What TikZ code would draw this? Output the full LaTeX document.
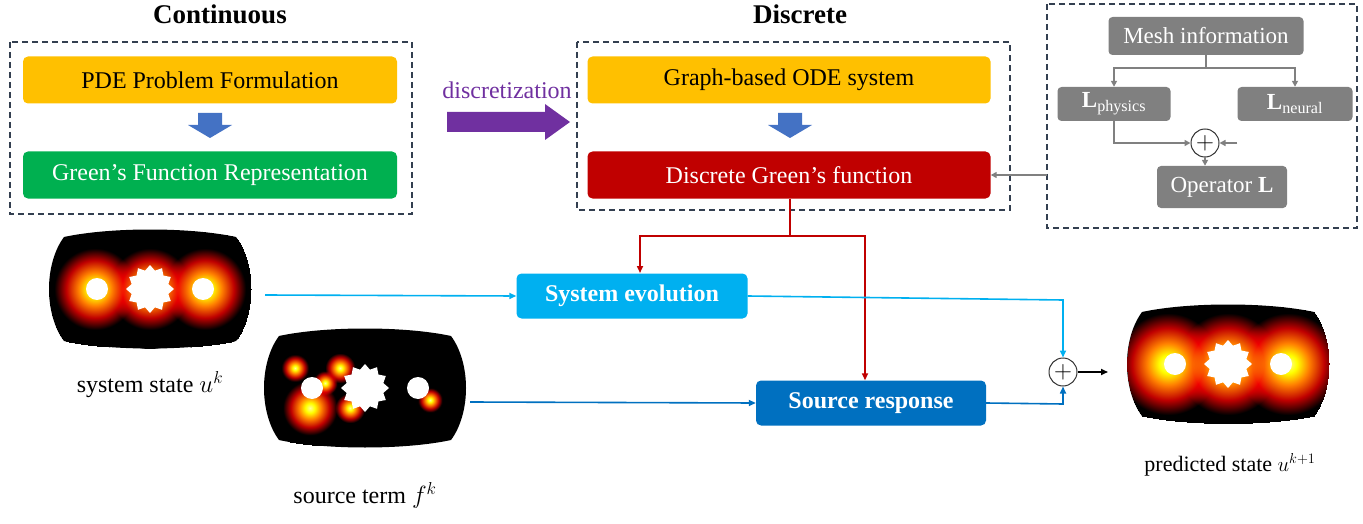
\documentclass[tikz,border=0pt]{standalone}
\usepackage{fontspec}
\setmainfont{Liberation Serif}
\usetikzlibrary{arrows.meta,calc}
\definecolor{yel}{HTML}{FFC000}
\definecolor{grn}{HTML}{00B050}
\definecolor{dred}{HTML}{C00000}
\definecolor{lblue}{HTML}{00B0F0}
\definecolor{mblue}{HTML}{0070C0}
\definecolor{arrb}{HTML}{4472C4}
\definecolor{purp}{HTML}{7030A0}
\definecolor{gbox}{HTML}{808080}
\definecolor{dash}{HTML}{333F50}
\pgfdeclareradialshading{glow}{\pgfpoint{0bp}{0bp}}{color(0bp)=(white!60!yellow); color(3bp)=(yellow); color(7bp)=(orange); color(12bp)=(red!75!black); color(17bp)=(black); color(25bp)=(black)}
\tikzset{
 x=1pt,y=-1pt,
 every node/.style={font=\fontsize{24}{28}\selectfont},
 box/.style={draw=none,rounded corners=5pt,minimum height=47pt,inner sep=0pt},
 gb/.style={fill=gbox,rounded corners=4pt,text=white,inner sep=0pt,font=\fontsize{23}{26}\selectfont},
 dbox/.style={draw=dash,dash pattern=on 6pt off 4pt,line width=1.3pt},
 garr/.style={draw=gbox,line width=1.6pt,-{Triangle[length=6pt,width=6pt]}},
 rarr/.style={draw=dred,line width=1.6pt,-{Triangle[length=7pt,width=6pt]}},
 larr/.style={draw=lblue,line width=1.6pt,-{Triangle[length=7pt,width=6pt]}},
 barr/.style={draw=mblue,line width=1.6pt,-{Triangle[length=7pt,width=6pt]}},
 oplus/.style={circle,draw=black!80,line width=1pt,minimum size=28pt,inner sep=0pt,font=\fontsize{28}{28}\selectfont},
 glw/.style={shading=glow,blend mode=screen},
}
\newcommand{\downarr}[2]{\fill[arrb] (#1-12,#2-13) -- (#1+12,#2-13) -- (#1+12,#2-1) -- (#1+22,#2-1) -- (#1,#2+12) -- (#1-22,#2-1) -- (#1-12,#2-1) -- cycle;}
\newcommand{\heat}[3]{% center x, y, variant
\begin{scope}[shift={(#1,#2)}]
 \path[clip] (-86,-52) .. controls (-40,-62) and (40,-62) .. (86,-52) .. controls (106,-25) and (106,25) .. (86,52) .. controls (40,62) and (-40,62) .. (-86,52) .. controls (-106,25) and (-106,-25) .. (-86,-52) -- cycle;
 \fill[black] (-110,-70) rectangle (110,70);
 \begin{scope}[transparency group]
 \ifnum#3=1
  \shade[glw] (-55,0) circle (60);
  \shade[glw] (0,0) circle (60);
  \shade[glw] (55,0) circle (60);
 \fi
 \ifnum#3=2
  \shade[glw] (-55,20) circle (40);
  \shade[glw] (-25,-20) circle (22);
  \shade[glw] (-40,-5) circle (18);
  \shade[glw] (-15,20) circle (22);
  \shade[glw] (65,12) circle (18);
  \shade[glw] (-70,-20) circle (20);
 \fi
 \ifnum#3=3
  \shade[glw] (-60,0) circle (75);
  \shade[glw] (0,0) circle (75);
  \shade[glw] (60,0) circle (75);
 \fi
 \end{scope}
 \fill[white] (-53,0) circle (11);
 \fill[white] (53,0) circle (11);
 \fill[white] (0:24) \foreach \a [evaluate=\a as \r using {mod(\a,30)==0?24:19}] in {15,30,...,345}{ -- (\a:\r)} -- cycle;
\end{scope}}
\begin{document}
\begin{tikzpicture}
\useasboundingbox (0,0) rectangle (1363,524);
% titles
\node[font=\fontsize{27}{30}\selectfont\bfseries] (tc) at (220,14) {Continuous};
\node[font=\fontsize{27}{30}\selectfont\bfseries] (td) at (800,14) {Discrete};
% left box
\draw[dbox] (10,42) rectangle (412,214);
\node[box,fill=yel,minimum width=374pt] (pde) at (210,80) {PDE Problem Formulation};
\downarr{210}{126}
\node[box,fill=grn,minimum width=374pt,text=white] (gf) at (210,175) {Green's Function Representation};
% discretization
\fill[purp] (447,112) -- (545,112) -- (545,104) -- (570,122) -- (545,140) -- (545,132) -- (447,132) -- cycle;
\node[text=purp] (dl) at (507,90) {discretization};
% middle box
\draw[dbox] (577,42) rectangle (1010,210);
\node[box,fill=yel,minimum width=403pt] (ode) at (789,80) {Graph-based ODE system};
\downarr{790}{126}
\node[box,fill=dred,minimum width=403pt,text=white] (dg) at (789,175) {Discrete Green’s function};
% right box
\draw[dbox] (1047,4) rectangle (1357,228);
\node[gb,minimum width=195pt,minimum height=38pt] (mi) at (1206,36) {Mesh information};
\node[gb,minimum width=113pt,minimum height=34pt] (lp) at (1114,104) {$\mathbf{L}_{\mathrm{physics}}$};
\node[gb,minimum width=115pt,minimum height=34pt] (ln) at (1295,104) {$\mathbf{L}_{\mathrm{neural}}$};
\node[oplus] (op1) at (1205,143) {$+$};
\node[gb,minimum width=130pt,minimum height=42pt] (ol) at (1222,187) {Operator $\mathbf{L}$};
\coordinate (m1) at (1206,68);
\draw[gbox,line width=1.6pt] (mi.south) -- (m1);
\draw[garr] (m1) -| (lp.north);
\draw[garr] (m1) -| (ln.north);
\draw[garr] (lp.south) |- (op1.west);
\draw[garr] (ln.west |- op1) -- (op1.east);
\draw[garr] (op1.south) -- (op1.south |- ol.north);
\coordinate (rb) at (1047,175);
\draw[garr] (rb) -- (dg.east);
% evolution boxes
\node[box,fill=lblue,minimum width=231pt,minimum height=45pt,text=white,font=\fontsize{24}{28}\selectfont\bfseries] (se) at (632,296) {System evolution};
\node[box,fill=mblue,minimum width=230pt,minimum height=45pt,text=white,font=\fontsize{24}{28}\selectfont\bfseries] (sr) at (871,403) {Source response};
% red
\coordinate (r1) at (790,236);
\draw[dred,line width=1.6pt] (dg.south -| r1) -- (r1);
\draw[rarr] (r1) -| (640,273);
\draw[rarr] (r1) -| (sr.north -| 865,0);
% images
\heat{150}{289}{1}
\heat{365}{388}{2}
\heat{1228}{364}{3}
\node (l1) at (150,385) {system state $u^k$};
\node (l2) at (365,495) {source term $f^k$};
\node[font=\fontsize{22}{26}\selectfont] (l3) at (1230,465) {predicted state $u^{k+1}$};
\node[oplus] (op2) at (1063,372) {$+$};
\coordinate (i1) at (265,295);
\coordinate (i2) at (470,402);
\coordinate (o3) at (1108,372);
\draw[larr] (i1) -- (se.west);
\draw[barr] (i2) -- (sr.west);
\draw[larr] (se.east) -- (1063,300) -- (op2.north);
\draw[barr] (sr.east) -- (1063,404) -- (op2.south);
\draw[line width=1.6pt,-{Triangle[length=7pt,width=6pt]}] (op2.east) -- (o3);
\end{tikzpicture}
\end{document}
